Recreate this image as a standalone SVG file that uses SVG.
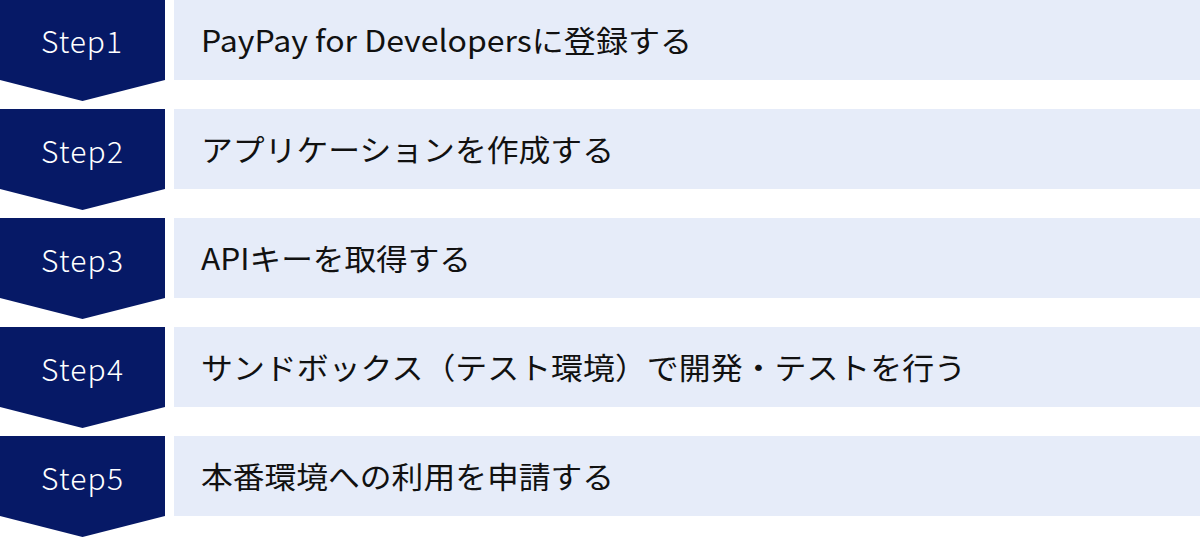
<svg xmlns="http://www.w3.org/2000/svg" width="1200" height="538" viewBox="0 0 1200 538">
<style>
.arrow{fill:#061966}
.box{fill:#e6ecf9}
.lbl{font-family:"Noto Sans CJK JP","Noto Sans",sans-serif;font-size:30px;font-weight:300;fill:#ffffff}
.txt{font-family:"Noto Sans CJK JP","Noto Sans",sans-serif;font-size:30px;fill:#111111}
</style>
<rect width="1200" height="538" fill="#ffffff"/>
<g id="step1">
<polygon class="arrow" points="0,0 165,0 165,80 82.5,101 0,80"/>
<rect class="box" x="174" y="0" width="1026" height="80"/>
<text class="lbl" x="41" y="53" textLength="81" lengthAdjust="spacing">Step1</text>
<text class="txt" x="201" y="52" textLength="491" lengthAdjust="spacingAndGlyphs">PayPay for Developersに登録する</text>
</g>
<g id="step2">
<polygon class="arrow" points="0,109 165,109 165,189 82.5,210 0,189"/>
<rect class="box" x="174" y="109" width="1026" height="80"/>
<text class="lbl" x="41" y="162.5" textLength="82" lengthAdjust="spacing">Step2</text>
<text class="txt" x="201" y="161" textLength="413" lengthAdjust="spacingAndGlyphs">アプリケーションを作成する</text>
</g>
<g id="step3">
<polygon class="arrow" points="0,218 165,218 165,298 82.5,319 0,298"/>
<rect class="box" x="174" y="218" width="1026" height="80"/>
<text class="lbl" x="41" y="271.5" textLength="82" lengthAdjust="spacing">Step3</text>
<text class="txt" x="201" y="270" textLength="270" lengthAdjust="spacingAndGlyphs">APIキーを取得する</text>
</g>
<g id="step4">
<polygon class="arrow" points="0,327 165,327 165,407 82.5,428 0,407"/>
<rect class="box" x="174" y="327" width="1026" height="80"/>
<text class="lbl" x="41" y="380.5" textLength="82" lengthAdjust="spacing">Step4</text>
<text class="txt" x="201" y="379" textLength="765" lengthAdjust="spacingAndGlyphs">サンドボックス（テスト環境）で開発・テストを行う</text>
</g>
<g id="step5">
<polygon class="arrow" points="0,436 165,436 165,516 82.5,537 0,516"/>
<rect class="box" x="174" y="436" width="1026" height="80"/>
<text class="lbl" x="41" y="489.5" textLength="82" lengthAdjust="spacing">Step5</text>
<text class="txt" x="201" y="488" textLength="413" lengthAdjust="spacingAndGlyphs">本番環境への利用を申請する</text>
</g>
<g id="connectors"></g>
</svg>
